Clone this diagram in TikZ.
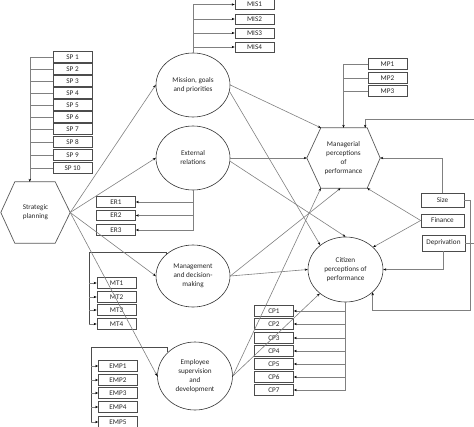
\documentclass[tikz,border=0pt]{standalone}
\usepackage{fontspec}
\setmainfont{Carlito}
\usetikzlibrary{calc,arrows.meta,shapes.geometric}
\begin{document}
\begin{tikzpicture}[x=1pt,y=-1pt,
  every node/.style={font=\fontsize{7.2}{9}\selectfont, align=center, text=black!85},
  ind/.style={draw=black!70, line width=0.7pt, minimum width=39, minimum height=10.5, inner sep=0pt},
  lat/.style={ellipse, draw=black!80, line width=0.6pt, inner sep=0pt},
  hexn/.style={inner sep=0pt},
  hexl/.style={draw=black!65, line width=0.7pt},
  conn/.style={draw=black!50, line width=0.6pt},
  arr/.style={conn, -{Stealth[length=3pt,width=2.4pt,color=black]}},
  brk/.style={draw=black!70, line width=0.95pt},
]
\useasboundingbox (0,0) rectangle (474,426);

% latent constructs
\node[hexn, minimum width=69, minimum height=61] (sp) at (35.5,212.5) {Strategic\\planning};
\node[hexn, minimum width=73, minimum height=60] (mp) at (343.5,158) {Managerial\\perceptions\\of\\performance};
\node[lat, minimum width=74, minimum height=64] (mis) at (193,85) {Mission, goals\\and priorities};
\node[lat, minimum width=74, minimum height=64] (ext) at (193,158) {External\\relations};
\node[lat, minimum width=74, minimum height=62] (mgt) at (193,276) {Management\\and decision-\\making};
\node[lat, minimum width=75, minimum height=68] (emp) at (195,376) {Employee\\supervision\\and\\development};
\node[lat, minimum width=75, minimum height=65] (cit) at (345.5,269.5) {Citizen\\perceptions of\\performance};

% hexagon outlines
\coordinate (spTL) at ($(sp.north west)+(14,0)$);
\coordinate (spTR) at ($(sp.north east)+(-15,0)$);
\coordinate (spBL) at ($(sp.south west)+(14,0)$);
\coordinate (spBR) at ($(sp.south east)+(-15,0)$);
\draw[hexl] (sp.west) -- (spTL) -- (spTR) -- (sp.east) -- (spBR) -- (spBL) -- cycle;
\coordinate (mpTL) at ($(mp.north west)+(14,0)$);
\coordinate (mpTR) at ($(mp.north east)+(-13,0)$);
\coordinate (mpBL) at ($(mp.south west)+(14,0)$);
\coordinate (mpBR) at ($(mp.south east)+(-13,0)$);
\draw[hexl] (mp.west) -- (mpTL) -- (mpTR) -- (mp.east) -- (mpBR) -- (mpBL) -- cycle;

% controls
\node[ind, minimum width=43, minimum height=14] (size) at (442.5,200) {Size};
\node[ind, minimum width=43, minimum height=13] (fin) at (442.5,220.5) {Finance};
\node[ind, minimum width=43, minimum height=16] (dep) at (443.5,243) {Deprivation};

% indicators
\foreach \i/\y in {1/57,2/69,3/81,4/93,5/105,6/117,7/129,8/142,9/155,10/168}
  \node[ind] (sp\i) at (72.5,\y) {SP \i};
\foreach \i/\y in {1/4.5,2/19,3/33,4/47}
  \node[ind, minimum height=10] (mis\i) at (254.5,\y) {MIS\i};
\foreach \i/\y in {1/64,2/78,3/91}
  \node[ind] (mp\i) at (387.5,\y) {MP\i};
\foreach \i/\y in {1/202,2/215.5,3/230}
  \node[ind] (er\i) at (116,\y) {ER\i};
\foreach \i/\y in {1/283,2/297,3/310,4/324}
  \node[ind] (mt\i) at (116.5,\y) {MT\i};
\foreach \i/\y in {1/366,2/380,3/393,4/407,5/422}
  \node[ind] (emp\i) at (118,\y) {EMP\i};
\foreach \i/\y in {1/311,2/324,3/338,4/351,5/364,6/377,7/390}
  \node[ind] (cp\i) at (274,\y) {CP\i};

% SP tree (formative)
\coordinate (spTop) at ($(sp.north west)+(29,0)$);
\draw[arr] (sp1.west) -| (spTop);
\foreach \i in {2,...,10} \draw[conn] (sp\i.west) -- (sp\i.west -| spTop);

% MIS tree (reflective)
\draw[arr] (mis.north) |- (mis1.west);
\foreach \i in {2,3,4} \draw[arr] (mis\i.west -| mis.north) -- (mis\i.west);

% MP tree (formative)
\draw[arr] (mp1.west) -| (mp.north);
\foreach \i in {2,3} \draw[conn] (mp\i.west) -- (mp\i.west -| mp.north);

% ER tree
\draw[arr] (ext.south) |- (er3.east);
\foreach \i in {1,2} \draw[arr] (er\i.east -| ext.south) -- (er\i.east);

% MT tree
\coordinate (mtC) at (89,252);
\draw[brk] (mgt.140) |- (mtC) -- (mtC |- mt4.west);
\foreach \i in {1,...,4} \draw[arr] (mtC |- mt\i.west) -- (mt\i.west);

% EMP tree
\coordinate (empC) at (91,347);
\draw[brk] (emp.139) |- (empC) -- (empC |- emp5.west);
\foreach \i in {1,...,5} \draw[arr] (empC |- emp\i.west) -- (emp\i.west);

% CP tree
\draw[arr] (cit.south) |- (cp7.east);
\foreach \i in {1,...,6} \draw[arr] (cp\i.east -| cit.south) -- (cp\i.east);

% structural paths
\draw[arr] (sp.east) -- (mis.west);
\draw[arr] (sp.east) -- (ext.west);
\draw[arr] (sp.east) -- (mgt.west);
\draw[arr] (sp.east) -- (emp.west);

\draw[arr] (mis.east) -- (mpTL);
\draw[arr] (mis.350) -- (cit.136);
\draw[arr] (ext.east) -- (mp.west);
\draw[arr] (ext.355) -- (cit.north);
\draw[arr] (mgt.east) -- ($(mp.south)+(-3,0)$);
\draw[arr] (mgt.east) -- (cit.west);
\draw[arr] (emp.east) -- (mpBL);
\draw[arr] (emp.east) -- (cit.223);

% controls
\coordinate (mpTR2) at ($(mp.north east)+(-15,0)$);
\coordinate (depR) at (477,119);
\draw[arr] (dep.east) -| (depR) -| (mpTR2);
\draw[arr] (dep.south) |- (cit.east);
\draw[arr] (size.north) |- (mp.east);
\coordinate (sizeR) at (470,310);
\draw[arr] (size.east) -| (sizeR) -| (cit.320);
\draw[arr] (fin.west) -- (mpBR);
\draw[arr] (fin.west) -- (cit.39);
\end{tikzpicture}
\end{document}
